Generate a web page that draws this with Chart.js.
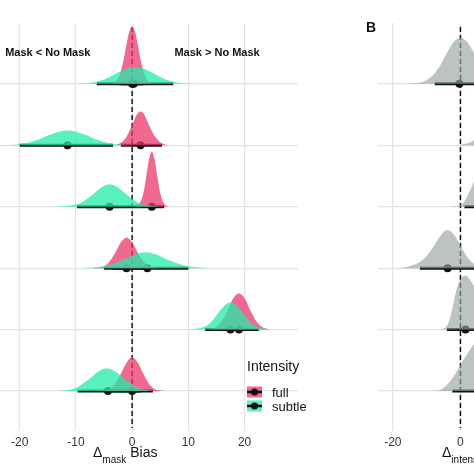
<!DOCTYPE html>
<html>
<head>
<meta charset="utf-8">
<script src="https://cdn.jsdelivr.net/npm/chart.js@4"></script>
<style>
  body { margin: 0; width: 474px; height: 474px; overflow: hidden; position: relative; background: #fff; }
  canvas { position: absolute; top: 0; }
</style>
</head>
<body>
<canvas id="chartA" width="358" height="474" style="left:-28px"></canvas>
<canvas id="chartB" width="330" height="474" style="left:350px"></canvas>
<script>
// rows go top to bottom, each density is a list of [x, height] pairs
const xTicksA = [-20, -10, 0, 10, 20];
const xTicksB = [-20, 0, 20];
const groups = ["full", "subtle"];

const fullDensity = [
  [[-3.5,0],[-3,0.03],[-2.5,0.09],[-2,0.21],[-1.5,0.4],[-1,0.64],[-0.5,0.85],[0,0.93],[0.5,0.85],[1,0.64],[1.5,0.4],[2,0.21],[2.5,0.09],[3,0.03],[3.5,0]],
  [[-3,0],[-2,0.04],[-1,0.14],[0,0.33],[1,0.52],[1.5,0.55],[2,0.52],[3,0.33],[4,0.15],[5,0.05],[6,0.01],[7,0]],
  [[0.5,0],[1,0.02],[1.5,0.08],[2,0.22],[2.5,0.48],[3,0.77],[3.5,0.9],[4,0.77],[4.5,0.48],[5,0.22],[5.5,0.08],[6,0.02],[6.5,0]],
  [[-7,0],[-6,0.01],[-5,0.03],[-4,0.11],[-3,0.25],[-2,0.42],[-1,0.5],[0,0.42],[1,0.25],[2,0.11],[3,0.03],[4,0.01],[5,0]],
  [[13,0],[14,0.01],[15,0.05],[16,0.15],[17,0.32],[18,0.51],[19,0.59],[20,0.51],[21,0.32],[22,0.15],[23,0.05],[24,0.01],[25,0]],
  [[-6,0],[-5,0.01],[-4,0.03],[-3,0.12],[-2,0.28],[-1,0.46],[0,0.55],[1,0.46],[2,0.28],[3,0.12],[4,0.03],[5,0.01],[6,0]]
];
const subtleDensity = [
  [[-11,0],[-9,0.005],[-7,0.02],[-5,0.07],[-3,0.16],[-1,0.25],[0.5,0.28],[2,0.25],[4,0.16],[6,0.07],[8,0.02],[10,0.005],[12,0]],
  [[-24,0],[-21,0.01],[-19,0.03],[-17,0.08],[-15,0.16],[-13,0.22],[-11.5,0.24],[-10,0.22],[-8,0.16],[-6,0.08],[-4,0.03],[-2,0.01],[0,0]],
  [[-14,0],[-11,0.02],[-9,0.07],[-7,0.2],[-5,0.34],[-4,0.36],[-3,0.34],[-1,0.2],[1,0.07],[3,0.02],[5,0]],
  [[-9,0],[-7,0.01],[-5,0.03],[-3,0.08],[-1,0.16],[1,0.24],[2.5,0.26],[4,0.23],[6,0.15],[8,0.08],[10,0.03],[12,0.01],[14,0]],
  [[9,0],[11,0.01],[13,0.05],[14,0.12],[15,0.23],[16,0.35],[17,0.43],[17.5,0.44],[18,0.43],[19,0.35],[20,0.23],[21,0.12],[22,0.05],[24,0.01],[26,0]],
  [[-15,0],[-12,0.01],[-10,0.05],[-8,0.17],[-6,0.32],[-4.5,0.37],[-3,0.32],[-1,0.17],[1,0.05],[3,0.01],[5,0]]
];
const fullPoint = [0, 1.5, 3.5, -1, 19, 0];
const fullInterval = [[-2,2], [-2,5.3], [0.5,5.7], [-5,3], [15,22.5], [-3.5,3.7]];
const subtlePoint = [0.3, -11.5, -4, 2.7, 17.5, -4.3];
const subtleInterval = [[-6.3,7.3], [-20,-3.4], [-9.8,0.5], [-3.5,10], [13,21], [-9.7,1.5]];

const grayDensity = [
  [[-16,0],[-12,0.02],[-10,0.06],[-8,0.15],[-6,0.3],[-4,0.5],[-2,0.68],[0,0.75],[2,0.68],[4,0.5],[6,0.3],[8,0.15],[10,0.06],[12,0.02],[16,0]],
  [[-1,0],[1,0.02],[3,0.05],[5,0.12],[7,0.25],[9,0.45],[11,0.65],[13,0.7],[15,0.55],[17,0.3],[19,0.12],[21,0.04],[24,0]],
  [[-3,0],[-1,0.01],[1,0.07],[3,0.28],[5,0.52],[7,0.6],[9,0.45],[11,0.22],[13,0.07],[15,0.01],[17,0]],
  [[-19,0],[-16,0.02],[-14,0.05],[-12,0.1],[-10,0.2],[-8,0.35],[-6,0.52],[-4,0.62],[-2,0.55],[0,0.37],[2,0.18],[4,0.07],[6,0.02],[9,0]],
  [[-7,0],[-5,0.02],[-4,0.06],[-3,0.2],[-2,0.45],[-1,0.68],[0,0.82],[1.5,0.88],[3,0.8],[5,0.6],[7,0.38],[9,0.2],[11,0.08],[13,0.02],[16,0]],
  [[-9,0],[-6,0.02],[-4,0.1],[-2,0.24],[0,0.43],[2,0.6],[4,0.76],[6,0.85],[8,0.8],[10,0.62],[12,0.38],[14,0.18],[16,0.06],[18,0.01],[21,0]]
];
const grayPoint = [-0.3, 12, 6, -3.8, 1.5, 6];
const grayInterval = [[-7.6,8], [5,19], [1.2,11], [-12,4.5], [-4,8], [-2.4,14]];

const FONT = "'Liberation Sans', Arial, sans-serif";
const PINK = "rgba(235,56,105,0.75)";
const TEAL = "rgba(35,235,171,0.75)";
const GRAY = "rgba(150,165,162,0.65)";
const INK = "#111";
const nRows = fullDensity.length;

function rowY(i) { return nRows - 1 - i; }

function slab(pairs, i, color) {
  const base = rowY(i);
  return {
    type: "line",
    data: pairs.map(([x, h]) => ({ x: x, y: base + h })),
    fill: { value: base },
    backgroundColor: color,
    borderColor: "transparent",
    borderWidth: 0,
    pointRadius: 0,
    cubicInterpolationMode: "monotone"
  };
}

function interval(range, i) {
  return {
    type: "line",
    data: [{ x: range[0], y: rowY(i) }, { x: range[1], y: rowY(i) }],
    borderColor: INK,
    borderWidth: 3,
    pointRadius: 0,
    fill: false
  };
}

function dots(values) {
  return {
    type: "scatter",
    data: values.map(([x, i]) => ({ x: x, y: rowY(i) })),
    backgroundColor: INK,
    borderWidth: 0,
    pointRadius: 4
  };
}

const zeroLine = {
  id: "zeroLine",
  beforeDatasetsDraw(chart) {
    const { ctx, chartArea, scales } = chart;
    const x = scales.x.getPixelForValue(0);
    ctx.save();
    ctx.strokeStyle = INK;
    ctx.lineWidth = 1.5;
    ctx.setLineDash([5, 3]);
    ctx.beginPath();
    ctx.moveTo(x, chartArea.top + 4);
    ctx.lineTo(x, chartArea.bottom - 3);
    ctx.stroke();
    ctx.restore();
  }
};

function axisTitle(ctx, x, y, sub) {
  ctx.fillStyle = INK;
  ctx.textAlign = "left";
  ctx.textBaseline = "alphabetic";
  ctx.font = "14px " + FONT;
  ctx.fillText("Δ", x, y);
  x += ctx.measureText("Δ").width;
  ctx.font = "10px " + FONT;
  ctx.fillText(sub, x, y + 6);
  x += ctx.measureText(sub).width + 4;
  ctx.font = "14px " + FONT;
  ctx.fillText("Bias", x, y);
}

const textA = {
  id: "textA",
  afterDraw(chart) {
    const { ctx, scales } = chart;
    const L = chart.chartArea.left;
    ctx.save();
    ctx.fillStyle = INK;
    ctx.font = "bold 11px " + FONT;
    ctx.textAlign = "center";
    ctx.textBaseline = "middle";
    const ty = scales.y.getPixelForValue(5.5);
    ctx.fillText("Mask < No Mask", scales.x.getPixelForValue(-15), ty);
    ctx.fillText("Mask > No Mask", scales.x.getPixelForValue(15.1), ty);

    axisTitle(ctx, L + 93, 457, "mask");

    // legend
    ctx.textAlign = "left";
    ctx.textBaseline = "middle";
    ctx.font = "14px " + FONT;
    ctx.fillText("Intensity", L + 247, 367);
    [PINK, TEAL].forEach((c, k) => {
      const cy = 392 + k * 14;
      ctx.fillStyle = c;
      ctx.fillRect(L + 247, cy - 5.5, 15, 11);
      ctx.strokeStyle = INK;
      ctx.lineWidth = 2.5;
      ctx.beginPath();
      ctx.moveTo(L + 247, cy);
      ctx.lineTo(L + 262, cy);
      ctx.stroke();
      ctx.fillStyle = INK;
      ctx.beginPath();
      ctx.arc(L + 254.5, cy, 3.5, 0, Math.PI * 2);
      ctx.fill();
      ctx.font = "13px " + FONT;
      ctx.fillText(groups[k], L + 272, cy + 1);
    });
    ctx.restore();
  }
};

const textB = {
  id: "textB",
  afterDraw(chart) {
    const { ctx } = chart;
    ctx.save();
    ctx.fillStyle = INK;
    ctx.font = "bold 14px " + FONT;
    ctx.textBaseline = "alphabetic";
    ctx.fillText("B", 16, 32);
    axisTitle(ctx, 92, 457, "intensity");
    ctx.restore();
  }
};

function scalesFor(min, max, ticks) {
  return {
    x: {
      type: "linear",
      min: min,
      max: max,
      afterBuildTicks: s => { s.ticks = ticks.map(v => ({ value: v })); },
      afterFit: s => { s.height = 43; },
      grid: { color: "#E3E3E3", lineWidth: 1.2, drawTicks: false },
      border: { display: false },
      ticks: { color: "#333", font: { size: 12, family: FONT }, padding: 4 }
    },
    y: {
      type: "linear",
      min: -0.65,
      max: 5.99,
      afterBuildTicks: s => { s.ticks = [0, 1, 2, 3, 4, 5].map(v => ({ value: v })); },
      afterFit: s => { s.width = 0; },
      grid: { color: "#E3E3E3", lineWidth: 1.2, drawTicks: false },
      border: { display: false },
      ticks: { display: false }
    }
  };
}

const baseOptions = {
  responsive: false,
  animation: false,
  plugins: { legend: { display: false }, tooltip: { enabled: false } }
};

// panel A
const setsA = [];
for (let i = 0; i < nRows; i++) {
  setsA.push(slab(subtleDensity[i], i, TEAL));
  setsA.push(slab(fullDensity[i], i, PINK));
}
for (let i = 0; i < nRows; i++) {
  setsA.push(interval(subtleInterval[i], i));
  setsA.push(interval(fullInterval[i], i));
}
setsA.push(dots(subtlePoint.map((x, i) => [x, i]).concat(fullPoint.map((x, i) => [x, i]))));

new Chart(document.getElementById("chartA"), {
  type: "line",
  data: { datasets: setsA },
  options: Object.assign({}, baseOptions, {
    layout: { padding: { top: 23, right: 32, left: 28, bottom: 0 } },
    scales: scalesFor(-23.5, 29.5, xTicksA)
  }),
  plugins: [zeroLine, textA]
});

// panel B
const setsB = [];
for (let i = 0; i < nRows; i++) setsB.push(slab(grayDensity[i], i, GRAY));
for (let i = 0; i < nRows; i++) setsB.push(interval(grayInterval[i], i));
setsB.push(dots(grayPoint.map((x, i) => [x, i])));

new Chart(document.getElementById("chartB"), {
  type: "line",
  data: { datasets: setsB },
  options: Object.assign({}, baseOptions, {
    layout: { padding: { top: 23, right: 0, left: 28, bottom: 0 } },
    scales: scalesFor(-24.4, 63.8, xTicksB)
  }),
  plugins: [zeroLine, textB]
});
</script>
</body>
</html>
